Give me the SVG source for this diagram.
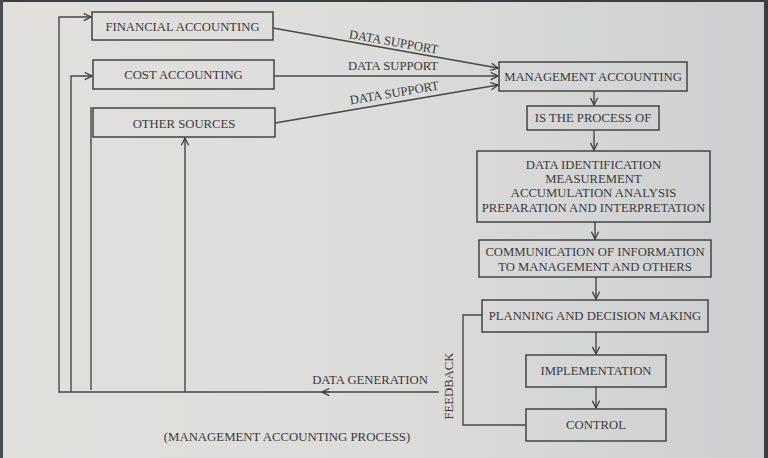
<svg xmlns="http://www.w3.org/2000/svg" width="768" height="458" viewBox="0 0 768 458">
<defs>
<linearGradient id="bg" x1="0" y1="0" x2="1" y2="0">
<stop offset="0" stop-color="#e1e0dd"/>
<stop offset="0.5" stop-color="#dcdcda"/>
<stop offset="1" stop-color="#cdcfd0"/>
</linearGradient>
<marker id="ah" viewBox="0 0 10 10" refX="9" refY="5" markerWidth="9" markerHeight="9" markerUnits="userSpaceOnUse" orient="auto">
<path d="M1,1 L9,5 L1,9" fill="none" stroke="#3c3c3c" stroke-width="1.4"/>
</marker>
<style>
.box{fill:none;stroke:#444;stroke-width:1.5}
.ln{fill:none;stroke:#474747;stroke-width:1.4}
.t{font-family:"Liberation Serif","Times New Roman",serif;font-size:12.7px;fill:#3a3a3a;text-anchor:middle}
.ttl{font-size:12.8px}
</style>
</defs>
<rect width="768" height="458" fill="url(#bg)"/>
<rect x="0" y="0" width="768" height="2" fill="#3a3d40"/>
<rect x="0" y="0" width="3" height="458" fill="#4a4d50"/>
<rect x="764" y="0" width="4" height="458" fill="#3a3d40"/>

<g id="connectors">
<path class="ln" d="M273,28 L498,68" marker-end="url(#ah)"/>
<path class="ln" d="M274,76 L498,76" marker-end="url(#ah)"/>
<path class="ln" d="M275,123 L498,85" marker-end="url(#ah)"/>
<path class="ln" d="M594,91 L594,105" marker-end="url(#ah)"/>
<path class="ln" d="M594,130 L594,150" marker-end="url(#ah)"/>
<path class="ln" d="M595,222 L595,239" marker-end="url(#ah)"/>
<path class="ln" d="M596,277 L596,299" marker-end="url(#ah)"/>
<path class="ln" d="M596,332 L596,354" marker-end="url(#ah)"/>
<path class="ln" d="M596,387 L596,408" marker-end="url(#ah)"/>
<path class="ln" d="M482,315 L463,315 L463,425 L526,425"/>
<path class="ln" d="M439,392 L59,392 L59,17 L91,17" marker-end="url(#ah)"/>
<path class="ln" d="M330,392 L322,392" marker-end="url(#ah)"/>
<path class="ln" d="M71,392 L71,76 L92,76" marker-end="url(#ah)"/>
<path class="ln" d="M91,107 L91,390"/>
<path class="ln" d="M185,392 L185,138" marker-end="url(#ah)"/>
<text class="t" transform="translate(393,46) rotate(10)">DATA SUPPORT</text>
<text class="t" x="393" y="70">DATA SUPPORT</text>
<text class="t" transform="translate(395,97) rotate(-9.6)">DATA SUPPORT</text>
<text class="t" x="370" y="384">DATA GENERATION</text>
<text class="t" transform="translate(453,386) rotate(-90)">FEEDBACK</text>
</g>

<g id="financial"><rect class="box" x="92" y="12" width="181" height="28"/><text class="t" x="182.5" y="31">FINANCIAL ACCOUNTING</text></g>
<g id="cost"><rect class="box" x="93" y="60" width="181" height="29"/><text class="t" x="183.5" y="79">COST ACCOUNTING</text></g>
<g id="other"><rect class="box" x="93" y="108" width="182" height="29"/><text class="t" x="184" y="128">OTHER SOURCES</text></g>
<g id="mgmt"><rect class="box" x="499" y="62" width="188" height="29"/><text class="t" x="593" y="81">MANAGEMENT ACCOUNTING</text></g>
<g id="process"><rect class="box" x="527" y="106" width="132" height="24"/><text class="t" x="593" y="122">IS THE PROCESS OF</text></g>
<g id="data"><rect class="box" x="477" y="151" width="233" height="71"/>
<text class="t" x="593.5" y="169">DATA IDENTIFICATION</text>
<text class="t" x="593.5" y="183">MEASUREMENT</text>
<text class="t" x="593.5" y="197">ACCUMULATION ANALYSIS</text>
<text class="t" x="593.5" y="212">PREPARATION AND INTERPRETATION</text></g>
<g id="comm"><rect class="box" x="479" y="240" width="232" height="37"/>
<text class="t" x="595" y="256">COMMUNICATION OF INFORMATION</text>
<text class="t" x="595" y="271">TO MANAGEMENT AND OTHERS</text></g>
<g id="planning"><rect class="box" x="482" y="300" width="226" height="32"/><text class="t" x="595" y="320">PLANNING AND DECISION MAKING</text></g>
<g id="impl"><rect class="box" x="526" y="355" width="140" height="32"/><text class="t" x="596" y="375">IMPLEMENTATION</text></g>
<g id="control"><rect class="box" x="526" y="409" width="140" height="32"/><text class="t" x="596" y="429">CONTROL</text></g>
<text class="t ttl" x="287" y="441">(MANAGEMENT ACCOUNTING PROCESS)</text>
</svg>
